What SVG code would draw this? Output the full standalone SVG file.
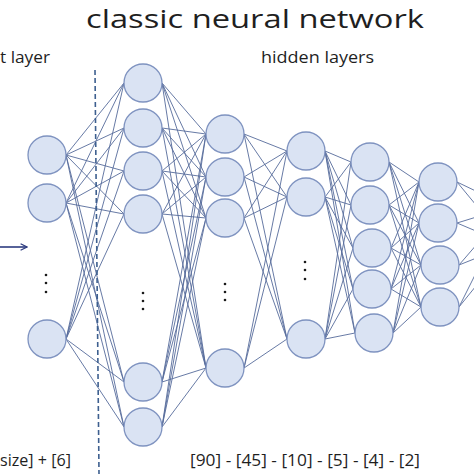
<svg xmlns="http://www.w3.org/2000/svg" width="474" height="474" viewBox="0 0 474 474">
<defs>
<style>
.node{fill:#dae3f3;stroke:#7f93c0;stroke-width:1.3}
.conn{fill:none;stroke:#566b9b;stroke-width:1;stroke-opacity:0.9}
.dot{fill:#1a1a1a}
.t{font-family:"Open Sans","Noto Sans","DejaVu Sans",sans-serif;fill:#1f1f1f}
</style>
<marker id="ah" viewBox="0 0 10 10" refX="9" refY="5" markerWidth="8" markerHeight="8" markerUnits="userSpaceOnUse" orient="auto">
<path d="M1,1 L9,5 L1,9" fill="none" stroke="#2e3d80" stroke-width="1.6"/>
</marker>
</defs>
<rect width="474" height="474" fill="#ffffff"/>
<text class="t" x="86" y="28" font-size="26" textLength="338" lengthAdjust="spacingAndGlyphs">classic neural network</text>
<text class="t" x="0" y="63" font-size="17" textLength="50" lengthAdjust="spacingAndGlyphs">t layer</text>
<text class="t" x="261" y="63" font-size="17" textLength="113" lengthAdjust="spacingAndGlyphs">hidden layers</text>
<text class="t" x="0" y="466" font-size="17" textLength="71" lengthAdjust="spacingAndGlyphs">size] + [6]</text>
<text class="t" x="190" y="466" font-size="17" textLength="230" lengthAdjust="spacingAndGlyphs">[90] - [45] - [10] - [5] - [4] - [2]</text>
<g id="connectors">
<path class="conn" d="M66,155L124,83M66,155L124,128M66,155L124,171M66,155L124,214M66,155L124,382M66,155L124,427M66,203L124,83M66,203L124,128M66,203L124,171M66,203L124,214M66,203L124,382M66,203L124,427M66,339L124,83M66,339L124,128M66,339L124,171M66,339L124,214M66,339L124,382M66,339L124,427"/>
<path class="conn" d="M162,83L206,134M162,83L206,177M162,83L206,218M162,83L206,368M162,128L206,134M162,128L206,177M162,128L206,218M162,128L206,368M162,171L206,134M162,171L206,177M162,171L206,218M162,171L206,368M162,214L206,134M162,214L206,177M162,214L206,218M162,214L206,368M162,382L206,134M162,382L206,177M162,382L206,218M162,382L206,368M162,427L206,134M162,427L206,177M162,427L206,218M162,427L206,368"/>
<path class="conn" d="M244,134L287,151M244,134L287,197M244,134L287,339M244,177L287,151M244,177L287,197M244,177L287,339M244,218L287,151M244,218L287,197M244,218L287,339M244,368L287,151M244,368L287,197M244,368L287,339"/>
<path class="conn" d="M325,151L351,162M325,151L351,205M325,151L353,248M325,151L353,289M325,151L355,333M325,197L351,162M325,197L351,205M325,197L353,248M325,197L353,289M325,197L355,333M325,339L351,162M325,339L351,205M325,339L353,248M325,339L353,289M325,339L355,333"/>
<path class="conn" d="M389,162L419,182M389,162L419,223M389,162L421,265M389,162L421,307M389,205L419,182M389,205L419,223M389,205L421,265M389,205L421,307M391,248L419,182M391,248L419,223M391,248L421,265M391,248L421,307M391,289L419,182M391,289L419,223M391,289L421,265M391,289L421,307M393,333L419,182M393,333L419,223M393,333L421,265M393,333L421,307"/>
<path class="conn" d="M457,182L509,207M457,182L509,245M457,223L509,207M457,223L509,245M459,265L509,207M459,265L509,245M459,307L509,207M459,307L509,245"/>
<line x1="0" y1="247" x2="27" y2="247" stroke="#2e3d80" stroke-width="1.6" marker-end="url(#ah)"/>
<line x1="95" y1="70" x2="99" y2="474" stroke="#3d5f8f" stroke-width="1.6" stroke-dasharray="5,3"/>
</g>
<g id="layer0">
<g id="n0_0"><circle class="node" cx="47" cy="155" r="19"/></g>
<g id="n0_1"><circle class="node" cx="47" cy="203" r="19"/></g>
<g id="n0_2"><circle class="node" cx="47" cy="339" r="19"/></g>
</g>
<g id="layer1">
<g id="n1_0"><circle class="node" cx="143" cy="83" r="19"/></g>
<g id="n1_1"><circle class="node" cx="143" cy="128" r="19"/></g>
<g id="n1_2"><circle class="node" cx="143" cy="171" r="19"/></g>
<g id="n1_3"><circle class="node" cx="143" cy="214" r="19"/></g>
<g id="n1_4"><circle class="node" cx="143" cy="382" r="19"/></g>
<g id="n1_5"><circle class="node" cx="143" cy="427" r="19"/></g>
</g>
<g id="layer2">
<g id="n2_0"><circle class="node" cx="225" cy="134" r="19"/></g>
<g id="n2_1"><circle class="node" cx="225" cy="177" r="19"/></g>
<g id="n2_2"><circle class="node" cx="225" cy="218" r="19"/></g>
<g id="n2_3"><circle class="node" cx="225" cy="368" r="19"/></g>
</g>
<g id="layer3">
<g id="n3_0"><circle class="node" cx="306" cy="151" r="19"/></g>
<g id="n3_1"><circle class="node" cx="306" cy="197" r="19"/></g>
<g id="n3_2"><circle class="node" cx="306" cy="339" r="19"/></g>
</g>
<g id="layer4">
<g id="n4_0"><circle class="node" cx="370" cy="162" r="19"/></g>
<g id="n4_1"><circle class="node" cx="370" cy="205" r="19"/></g>
<g id="n4_2"><circle class="node" cx="372" cy="248" r="19"/></g>
<g id="n4_3"><circle class="node" cx="372" cy="289" r="19"/></g>
<g id="n4_4"><circle class="node" cx="374" cy="333" r="19"/></g>
</g>
<g id="layer5">
<g id="n5_0"><circle class="node" cx="438" cy="182" r="19"/></g>
<g id="n5_1"><circle class="node" cx="438" cy="223" r="19"/></g>
<g id="n5_2"><circle class="node" cx="440" cy="265" r="19"/></g>
<g id="n5_3"><circle class="node" cx="440" cy="307" r="19"/></g>
</g>
<g id="layer6">
<g id="n6_0"><circle class="node" cx="528" cy="207" r="19"/></g>
<g id="n6_1"><circle class="node" cx="528" cy="245" r="19"/></g>
</g>
<g id="ellipses">
<circle class="dot" cx="46" cy="275" r="1.3"/><circle class="dot" cx="46" cy="283" r="1.3"/><circle class="dot" cx="46" cy="292" r="1.3"/>
<circle class="dot" cx="143" cy="293" r="1.3"/><circle class="dot" cx="143" cy="301" r="1.3"/><circle class="dot" cx="143" cy="309" r="1.3"/>
<circle class="dot" cx="225" cy="284" r="1.3"/><circle class="dot" cx="225" cy="292" r="1.3"/><circle class="dot" cx="225" cy="300" r="1.3"/>
<circle class="dot" cx="305" cy="262" r="1.3"/><circle class="dot" cx="305" cy="270" r="1.3"/><circle class="dot" cx="305" cy="279" r="1.3"/>
</g>
</svg>
